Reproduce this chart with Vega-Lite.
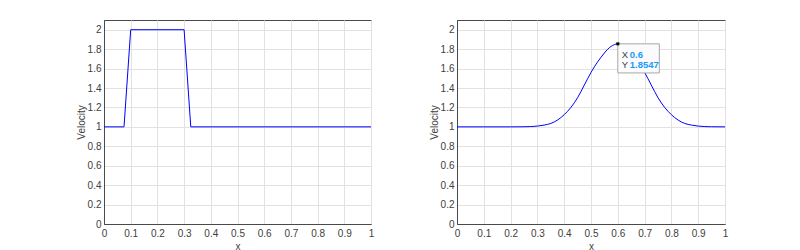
{
  "$schema": "https://vega.github.io/schema/vega-lite/v6.json",
  "background": "white",
  "padding": {"left": 75, "top": 19, "right": 5, "bottom": 2},
  "spacing": 53,
  "datasets": {
    "pulse": [
      {"x": 0, "v": 1}, {"x": 0.075, "v": 1}, {"x": 0.1, "v": 2}, {"x": 0.3, "v": 2}, {"x": 0.325, "v": 1}, {"x": 1, "v": 1}
    ],
    "smooth": [
      {"x": 0, "v": 1}, {"x": 0.1, "v": 1}, {"x": 0.2, "v": 1}, {"x": 0.25, "v": 1.001},
      {"x": 0.275, "v": 1.003}, {"x": 0.3, "v": 1.008}, {"x": 0.325, "v": 1.018}, {"x": 0.35, "v": 1.035},
      {"x": 0.375, "v": 1.07}, {"x": 0.4, "v": 1.125}, {"x": 0.425, "v": 1.2}, {"x": 0.45, "v": 1.3},
      {"x": 0.475, "v": 1.43}, {"x": 0.5, "v": 1.56}, {"x": 0.525, "v": 1.67}, {"x": 0.55, "v": 1.76},
      {"x": 0.5625, "v": 1.8}, {"x": 0.575, "v": 1.828}, {"x": 0.5875, "v": 1.847}, {"x": 0.6, "v": 1.8547},
      {"x": 0.6125, "v": 1.847}, {"x": 0.625, "v": 1.828}, {"x": 0.6375, "v": 1.8}, {"x": 0.65, "v": 1.76},
      {"x": 0.675, "v": 1.67}, {"x": 0.7, "v": 1.56}, {"x": 0.725, "v": 1.43}, {"x": 0.75, "v": 1.3},
      {"x": 0.775, "v": 1.2}, {"x": 0.8, "v": 1.125}, {"x": 0.825, "v": 1.07}, {"x": 0.85, "v": 1.035},
      {"x": 0.875, "v": 1.018}, {"x": 0.9, "v": 1.008}, {"x": 0.925, "v": 1.003}, {"x": 0.95, "v": 1.001},
      {"x": 1, "v": 1}
    ],
    "tip": [{"x": 0.6, "v": 1.8547}]
  },
  "config": {
    "view": {"stroke": "#4a4a4a", "strokeWidth": 1},
    "axis": {
      "grid": true, "gridColor": "#e2e2e2",
      "gridOpacity": {"condition": {"test": "datum.value == 0", "value": 0}, "value": 1},
      "domain": true, "domainColor": "#4a4a4a",
      "tickSize": 0, "labelFont": "Liberation Sans", "labelFontSize": 10, "labelColor": "#404040",
      "titleFont": "Liberation Sans", "titleFontSize": 10, "titleFontWeight": "normal", "titleColor": "#404040",
      "labelOverlap": false, "labelFlush": false
    }
  },
  "hconcat": [
    {
      "width": 267, "height": 204,
      "data": {"name": "pulse"},
      "mark": {"type": "line", "color": "#0000ff", "strokeWidth": 1},
      "encoding": {
        "x": {"field": "x", "type": "quantitative", "scale": {"domain": [0, 1], "nice": false},
              "axis": {"title": "x", "values": [0,0.1,0.2,0.3,0.4,0.5,0.6,0.7,0.8,0.9,1], "format": "~g", "labelPadding": 4, "titlePadding": 3}},
        "y": {"field": "v", "type": "quantitative", "scale": {"domain": [0, 2.1], "nice": false},
              "axis": {"title": "Velocity", "values": [0,0.2,0.4,0.6,0.8,1,1.2,1.4,1.6,1.8,2], "format": "~g", "labelPadding": 3, "titlePadding": 1}}
      }
    },
    {
      "width": 268, "height": 204,
      "encoding": {
        "x": {"field": "x", "type": "quantitative", "scale": {"domain": [0, 1], "nice": false},
              "axis": {"title": "x", "values": [0,0.1,0.2,0.3,0.4,0.5,0.6,0.7,0.8,0.9,1], "format": "~g", "labelPadding": 4, "titlePadding": 3}},
        "y": {"field": "v", "type": "quantitative", "scale": {"domain": [0, 2.1], "nice": false},
              "axis": {"title": "Velocity", "values": [0,0.2,0.4,0.6,0.8,1,1.2,1.4,1.6,1.8,2], "format": "~g", "labelPadding": 3, "titlePadding": 1}}
      },
      "layer": [
        {
          "data": {"name": "smooth"},
          "mark": {"type": "line", "color": "#0000ff", "strokeWidth": 1, "interpolate": "monotone"}
        },
        {
          "data": {"name": "tip"},
          "mark": {"type": "rect", "fill": "#fbfbfd", "stroke": "#a8a8a8", "strokeWidth": 1},
          "encoding": {
            "x2": {"datum": 0.755},
            "y2": {"datum": 1.555}
          }
        },
        {
          "data": {"name": "tip"},
          "mark": {"type": "point", "shape": "square", "filled": true, "color": "black", "size": 9, "opacity": 1}
        },
        {
          "data": {"name": "tip"},
          "mark": {"type": "text", "align": "left", "baseline": "middle", "dx": 4, "dy": 11, "fontSize": 9.5, "font": "Liberation Sans", "color": "#404040"},
          "encoding": {"text": {"value": "X"}}
        },
        {
          "data": {"name": "tip"},
          "mark": {"type": "text", "align": "left", "baseline": "middle", "dx": 4, "dy": 21, "fontSize": 9.5, "font": "Liberation Sans", "color": "#404040"},
          "encoding": {"text": {"value": "Y"}}
        },
        {
          "data": {"name": "tip"},
          "mark": {"type": "text", "align": "left", "baseline": "middle", "dx": 12, "dy": 11, "fontSize": 9.5, "font": "Liberation Sans", "fontWeight": "bold", "color": "#1a9bf5"},
          "encoding": {"text": {"field": "x", "type": "quantitative", "format": "~g"}}
        },
        {
          "data": {"name": "tip"},
          "mark": {"type": "text", "align": "left", "baseline": "middle", "dx": 12, "dy": 21, "fontSize": 9.5, "font": "Liberation Sans", "fontWeight": "bold", "color": "#1a9bf5"},
          "encoding": {"text": {"field": "v", "type": "quantitative", "format": ".5~g"}}
        }
      ]
    }
  ]
}
